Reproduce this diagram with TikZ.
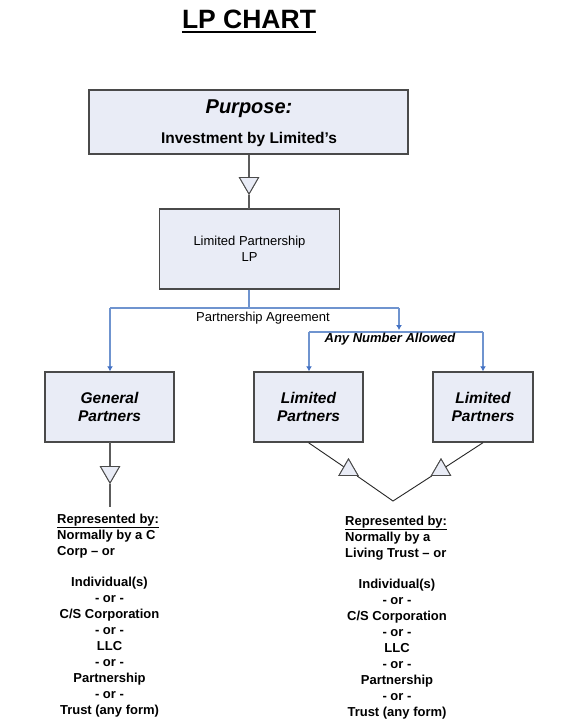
\documentclass[tikz,border=0pt]{standalone}
\usepackage{fontspec}
\setmainfont{Liberation Sans}
\usetikzlibrary{shapes.geometric,arrows.meta}
\definecolor{boxfill}{HTML}{E9ECF6}
\definecolor{boxedge}{HTML}{4A4A4A}
\definecolor{bline}{HTML}{6F94CF}
\definecolor{btip}{HTML}{4472C4}
\tikzset{
  box/.style={draw=boxedge, line width=1.4pt, fill=boxfill, inner sep=0pt, align=center},
  tri/.style={regular polygon, regular polygon sides=3, draw=boxedge, line width=0.9pt, fill=boxfill, minimum size=22pt, inner sep=0pt},
  conn/.style={draw=boxedge!90, line width=1.6pt},
  thin conn/.style={draw=black!85, line width=0.9pt},
  blue conn/.style={draw=bline, line width=1.5pt, -{Latex[length=5pt,width=6pt,color=btip]}},
  blue line/.style={draw=bline, line width=1.5pt},
  ttl/.style={font=\bfseries\itshape\fontsize{15.5}{18}\selectfont},
  body/.style={font=\bfseries\fontsize{13}{16}\selectfont, inner sep=0pt}
}
\begin{document}
\begin{tikzpicture}[x=1pt,y=-1pt]
\useasboundingbox (0,0) rectangle (577,719);
\fill[white] (0,0) rectangle (577,719);

% title
\node[font=\bfseries\fontsize{26.5}{30}\selectfont, inner sep=0pt, anchor=base] (title) at (249,28.5) {LP CHART};
\draw[line width=2pt] ([yshift=-4pt]title.base west) -- ([yshift=-4pt]title.base east);

% boxes
\node[box, minimum width=319pt, minimum height=64pt] (purpose) at (248.5,122) {};
\node[font=\bfseries\itshape\fontsize{20}{24}\selectfont, inner sep=0pt] (ptitle) at (249,109) {Purpose:};
\node[font=\bfseries\fontsize{15.5}{18}\selectfont, inner sep=0pt] (pinv) at (249,139.5) {Investment by Limited’s};

\node[box, minimum width=180pt, minimum height=80pt, font=\fontsize{13}{16}\selectfont] (lp) at (249.5,249) {Limited Partnership\\LP};

\node[box, ttl, minimum width=129pt, minimum height=70pt] (gp) at (109.5,407) {General\\Partners};
\node[box, ttl, minimum width=109pt, minimum height=70pt] (lp1) at (308.5,407) {Limited\\Partners};
\node[box, ttl, minimum width=100pt, minimum height=70pt] (lp2) at (483,407) {Limited\\Partners};

% top connector with open triangle
\coordinate (c1) at (249,155);
\coordinate (c2) at (249,209);
\node[tri, shape border rotate=180] (t1) at (249,183) {};
\draw[conn] (c1) -- (t1);
\draw[conn] (t1) -- (c2);
\node[tri, shape border rotate=180] (t1b) at (249,183) {};

% blue partnership connectors
\coordinate (j0) at (249,308);
\coordinate (jl) at (110,308);
\coordinate (jr) at (399,308);
\coordinate (jrr) at (399,332);
\coordinate (k1) at (309,332);
\coordinate (k2) at (483,332);
\draw[blue line] (lp.south -| j0) -- (j0) -- (jl);
\draw[blue conn] (jl) -- (jl |- gp.north);
\draw[blue line] (j0) -- (jr);
\draw[blue conn] (jr) -- ([yshift=2pt]jrr);
\draw[blue line] (k1) -- (k2);
\draw[blue conn] (k1) -- (k1 |- lp1.north);
\draw[blue conn] (k2) -- (k2 |- lp2.north);
\node[font=\fontsize{13}{16}\selectfont, inner sep=0pt] (pa) at (263,318.5) {Partnership Agreement};
\node[font=\bfseries\itshape\fontsize{13}{16}\selectfont, inner sep=0pt] (anya) at (390,339.5) {Any Number Allowed};

% general partner connector
\coordinate (gtop) at (110,442);
\coordinate (gend) at (110,507);
\node[tri, shape border rotate=180] (t2) at (110,472) {};
\draw[conn] (gtop) -- (t2);
\draw[conn] (t2) -- (gend);
\node[tri, shape border rotate=180] (t2b) at (110,472) {};

% limited partners connectors
\coordinate (vb) at (393,501);
\node[tri] (t3) at (348.5,470) {};
\node[tri] (t4) at (441,470) {};
\draw[thin conn] (lp1.south) -- (t3);
\draw[thin conn] (t3) -- (vb) -- (t4);
\draw[thin conn] (t4) -- (lp2.south);
\node[tri] (t3b) at (348.5,470) {};
\node[tri] (t4b) at (441,470) {};

% text blocks
\node[body, anchor=north west, align=left] (hdrL) at (57,513.5) {\underline{Represented by:}\\Normally by a C\\Corp – or};
\node[body, anchor=north, align=center] (listL) at (109.5,577) {Individual(s)\\- or -\\C/S Corporation\\- or -\\LLC\\- or -\\Partnership\\- or -\\Trust (any form)};

\node[body, anchor=north west, align=left] (hdrR) at (345,515.5) {\underline{Represented by:}\\Normally by a\\Living Trust – or};
\node[body, anchor=north, align=center] (listR) at (397,579) {Individual(s)\\- or -\\C/S Corporation\\- or -\\LLC\\- or -\\Partnership\\- or -\\Trust (any form)};
\end{tikzpicture}
\end{document}
